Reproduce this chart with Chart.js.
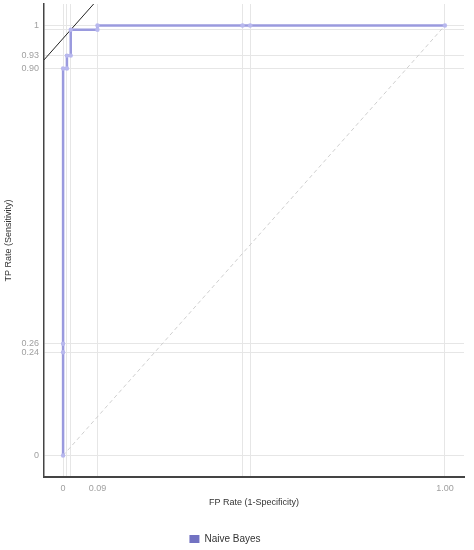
<!DOCTYPE html>
<html>
<head>
<meta charset="utf-8">
<script src="https://cdn.jsdelivr.net/npm/chart.js@4"></script>
<style>
  html, body { margin: 0; padding: 0; background: #fff; }
</style>
</head>
<body>
<canvas id="rocChart" width="474" height="550"></canvas>
<script>
// ROC curve points
const fpRate = [0, 0, 0, 0, 0.01, 0.01, 0.02, 0.02, 0.09, 0.09, 0.47, 0.49, 1];
const tpRate = [0, 0.24, 0.26, 0.90, 0.90, 0.93, 0.93, 0.99, 0.99, 1, 1, 1, 1];

// chance diagonal and the black tangent line in the top-left corner
const chanceX = [0, 1];
const chanceY = [0, 1];
const isoX = [-0.05, 0.08];
const isoY = [0.92, 1.05];

// grid positions and the labels that are shown
const xTicks = [0, 0.01, 0.02, 0.09, 0.47, 0.49, 1];
const xLabels = { 0: '0', 0.09: '0.09', 1: '1.00' };
const yTicks = [0, 0.24, 0.26, 0.90, 0.93, 0.99, 1];
const yLabels = { 0: '0', 0.24: '0.24', 0.26: '0.26', 0.9: '0.90', 0.93: '0.93', 1: '1' };

const seriesName = 'Naive Bayes';

function toPoints(xs, ys) {
    return xs.map((x, i) => ({ x: x, y: ys[i] }));
}

// legend sits a little left of centre in the original
const legendShift = {
    id: 'legendShift',
    afterLayout(chart) {
        chart.legend.left -= 7;
        chart.legend.right -= 7;
    }
};

const ctx = document.getElementById('rocChart').getContext('2d');

new Chart(ctx, {
    type: 'line',
    data: {
        datasets: [{
            label: seriesName,
            data: toPoints(fpRate, tpRate),
            borderColor: '#9a9ade',
            backgroundColor: '#7272c2',
            borderWidth: 2.5,
            pointRadius: 2.2,
            pointBackgroundColor: '#b8b8ee',
            pointBorderColor: '#b8b8ee',
            pointBorderWidth: 0,
            tension: 0
        }, {
            label: 'chance',
            data: toPoints(chanceX, chanceY),
            borderColor: '#cfcfcf',
            borderWidth: 1,
            borderDash: [4, 3],
            pointRadius: 0
        }, {
            label: 'iso',
            data: toPoints(isoX, isoY),
            borderColor: '#222',
            borderWidth: 1,
            pointRadius: 0
        }]
    },
    plugins: [legendShift],
    options: {
        responsive: false,
        animation: false,
        devicePixelRatio: 1,
        layout: { padding: { left: 0, right: 10, top: 3, bottom: -4 } },
        plugins: {
            tooltip: { enabled: false },
            legend: {
                position: 'bottom',
                labels: {
                    boxWidth: 10,
                    boxHeight: 8,
                    padding: 10,
                    color: '#333',
                    font: { family: 'Liberation Sans', size: 10 },
                    filter: (item) => item.datasetIndex === 0,
                    generateLabels: (chart) => {
                        const items = Chart.defaults.plugins.legend.labels.generateLabels(chart);
                        items.forEach(it => {
                            it.fillStyle = '#7272c2';
                            it.strokeStyle = '#7272c2';
                            it.lineWidth = 0;
                        });
                        return items;
                    }
                }
            }
        },
        scales: {
            x: {
                type: 'linear',
                min: -0.05,
                max: 1.05,
                afterFit: (scale) => {
                    scale.height = 47;
                    scale.paddingLeft = 0;
                    scale.paddingRight = 0;
                },
                afterBuildTicks: (scale) => { scale.ticks = xTicks.map(v => ({ value: v })); },
                ticks: {
                    autoSkip: false,
                    maxRotation: 0,
                    padding: 6,
                    color: '#a0a0a0',
                    font: { family: 'Liberation Sans', size: 9 },
                    callback: (v) => xLabels[v] ?? ''
                },
                grid: { color: '#e6e6e6', drawTicks: false },
                border: { color: '#444', width: 2 },
                title: {
                    display: true,
                    text: 'FP Rate (1-Specificity)',
                    color: '#333',
                    font: { family: 'Liberation Sans', size: 9 },
                    padding: { top: 0, bottom: 16 }
                }
            },
            y: {
                type: 'linear',
                min: -0.05,
                max: 1.05,
                afterFit: (scale) => {
                    scale.width = 44;
                    scale.paddingTop = 0;
                    scale.paddingBottom = 0;
                },
                afterBuildTicks: (scale) => { scale.ticks = yTicks.map(v => ({ value: v })); },
                ticks: {
                    autoSkip: false,
                    padding: 5,
                    color: '#a0a0a0',
                    font: { family: 'Liberation Sans', size: 9 },
                    callback: (v) => yLabels[v] ?? ''
                },
                grid: { color: '#e6e6e6', drawTicks: false },
                border: { color: '#444', width: 1.5 },
                title: {
                    display: true,
                    text: 'TP Rate (Sensitivity)',
                    color: '#333',
                    font: { family: 'Liberation Sans', size: 9 },
                    padding: { top: 3, bottom: 0 }
                }
            }
        }
    }
});
</script>
</body>
</html>
